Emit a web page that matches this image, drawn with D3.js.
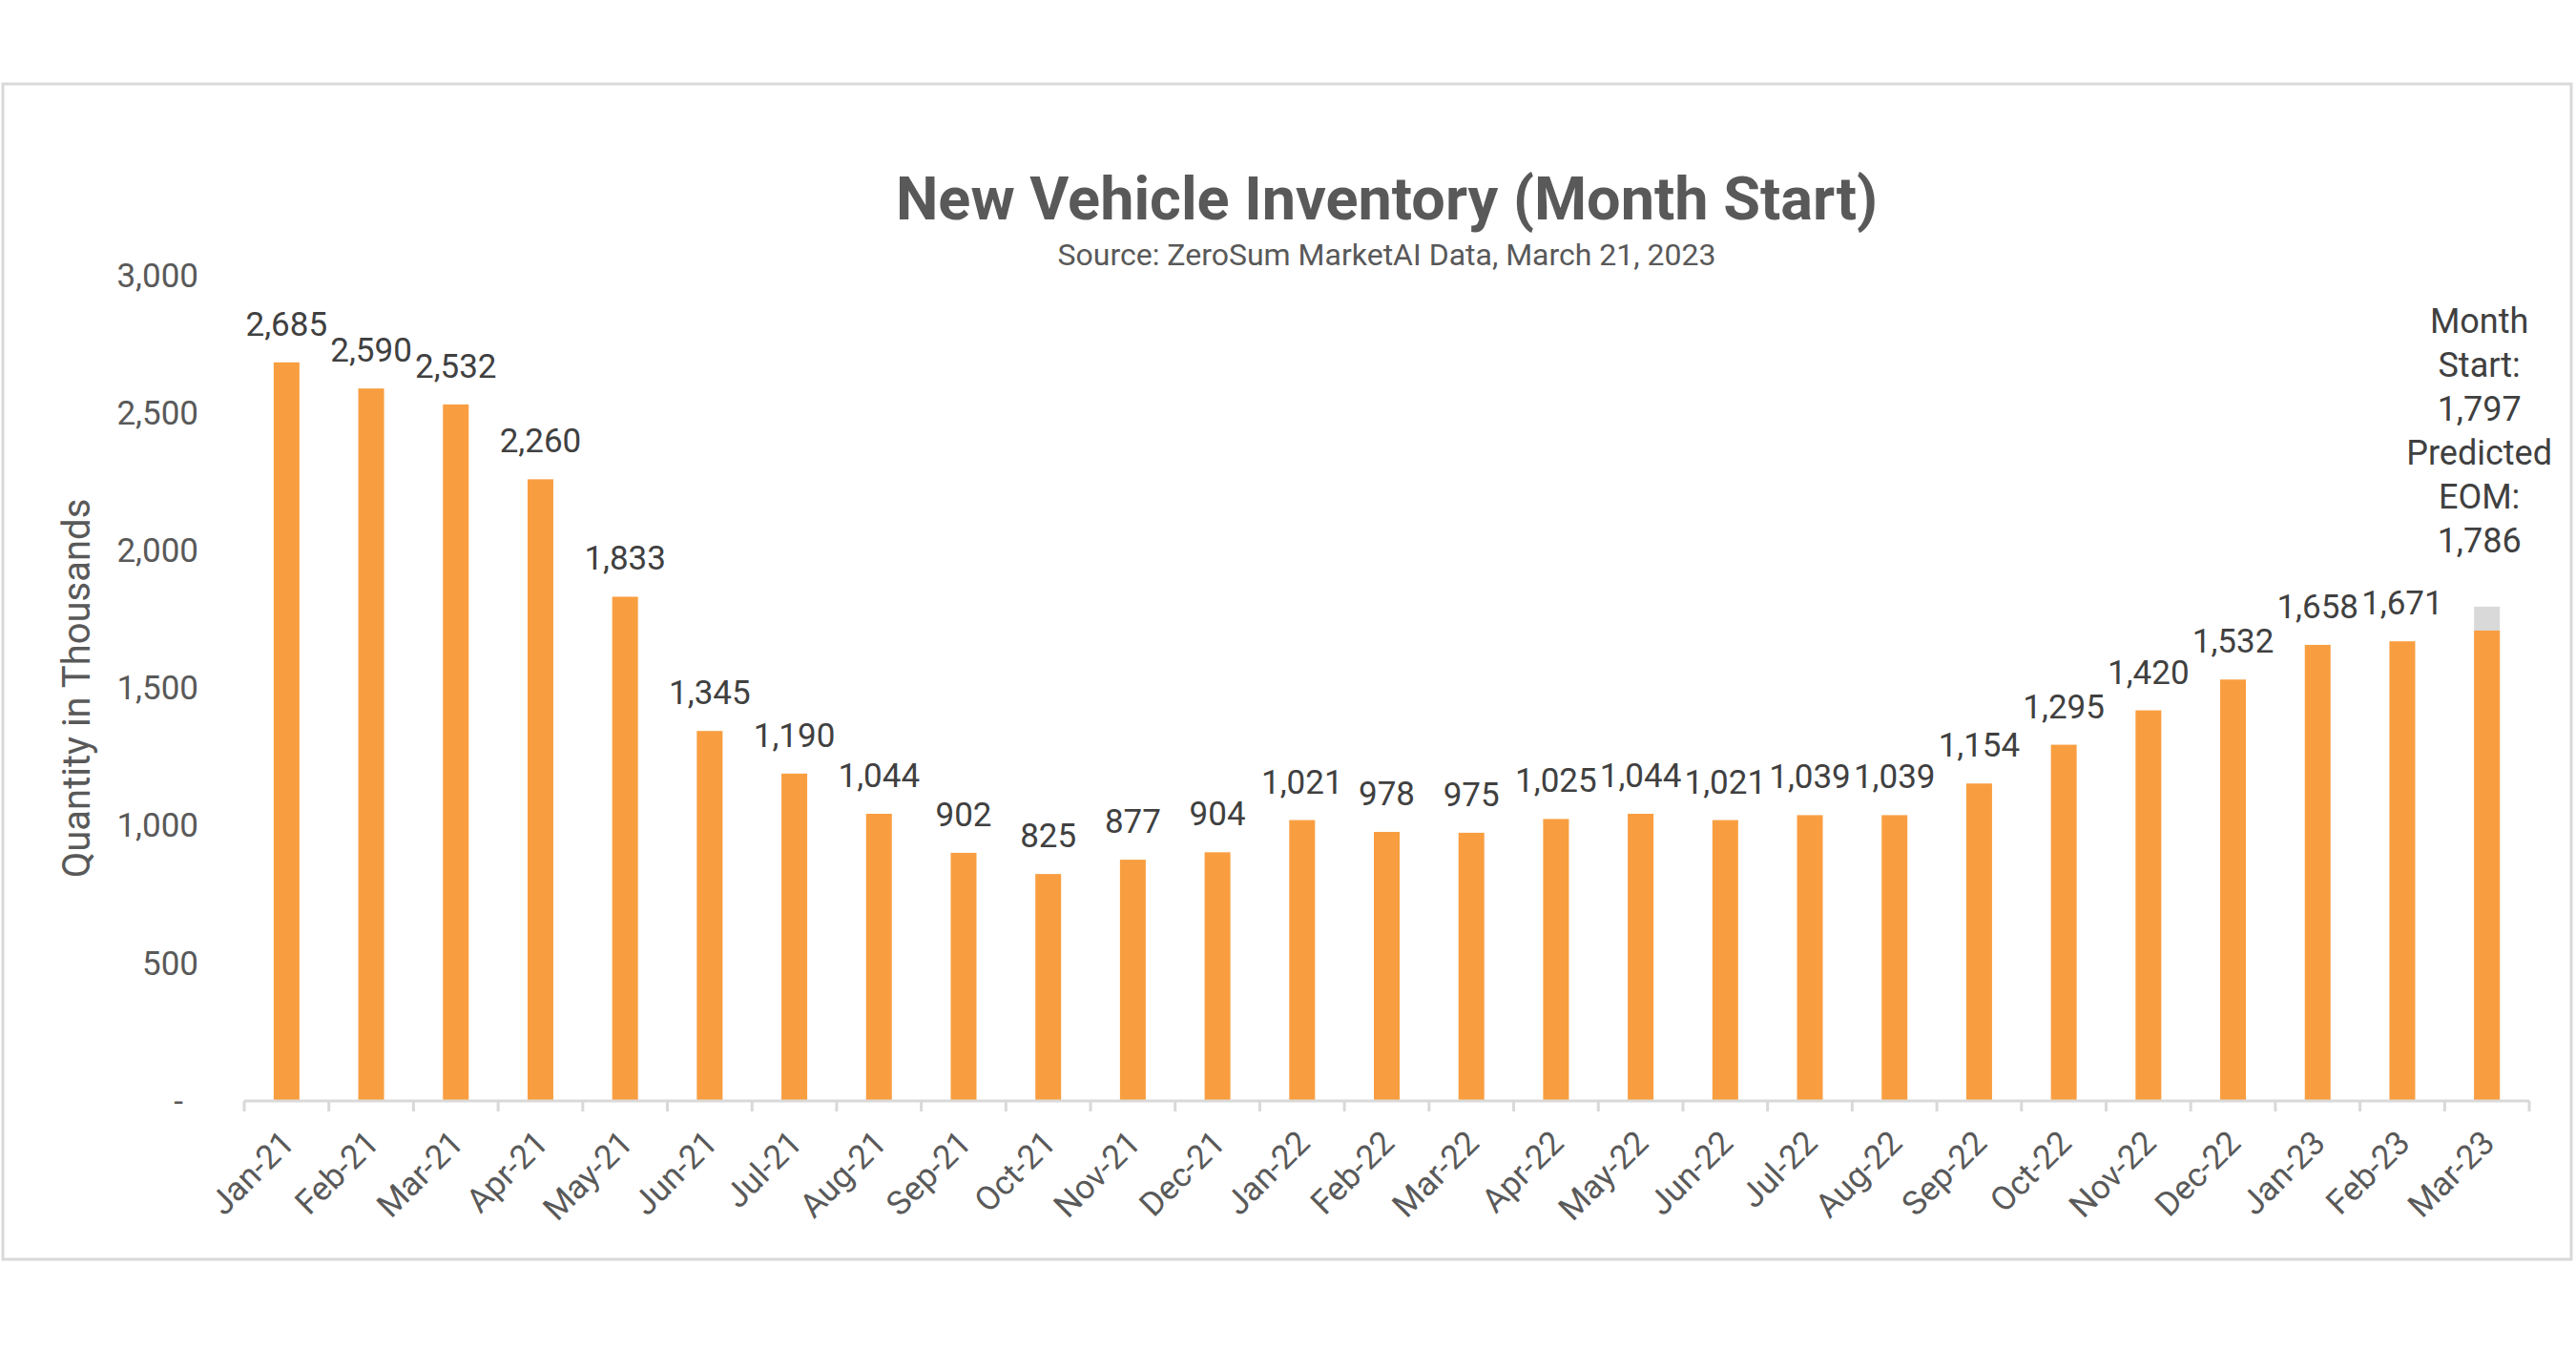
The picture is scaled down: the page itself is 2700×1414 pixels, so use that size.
<!DOCTYPE html>
<html>
<head>
<meta charset="utf-8">
<script src="https://cdn.jsdelivr.net/npm/d3@7"></script>
<style>
  body { margin: 0; background: #fff; }
  svg { display: block; }
</style>
</head>
<body>
<svg id="chart"></svg>
<script>
const months = ["Jan-21","Feb-21","Mar-21","Apr-21","May-21","Jun-21","Jul-21","Aug-21","Sep-21","Oct-21","Nov-21","Dec-21",
  "Jan-22","Feb-22","Mar-22","Apr-22","May-22","Jun-22","Jul-22","Aug-22","Sep-22","Oct-22","Nov-22","Dec-22",
  "Jan-23","Feb-23","Mar-23"];
// orange bars (last one is the part-month value)
const inventory = [2685,2590,2532,2260,1833,1345,1190,1044,902,825,877,904,
  1021,978,975,1025,1044,1021,1039,1039,1154,1295,1420,1532,
  1658,1671,1710];
// gray cap on the last bar reaches the month start figure
const monthStart = [null,null,null,null,null,null,null,null,null,null,null,null,
  null,null,null,null,null,null,null,null,null,null,null,null,
  null,null,1797];
const lastNote = ["Month","Start:","1,797","Predicted","EOM:","1,786"];
const yTicks = [0,500,1000,1500,2000,2500,3000];

const W = 2700, H = 1414;
const margin = {top: 289, left: 256, right: 49, bottom: 260};
const textColor = "#595959";
const font = "Roboto, 'Open Sans', sans-serif";

const svg = d3.select("#chart").attr("width", W).attr("height", H);

// outer frame
svg.append("rect")
  .attr("x", 3).attr("y", 88)
  .attr("width", 2692).attr("height", 1232)
  .attr("fill", "none")
  .attr("stroke", "#d9d9d9")
  .attr("stroke-width", 3);

const x = d3.scaleBand()
  .domain(months)
  .range([margin.left, W - margin.right]);
const y = d3.scaleLinear()
  .domain([0, 3000])
  .range([H - margin.bottom, margin.top]);

const barW = 27;
const fmt = d3.format(",");

// title
svg.append("text")
  .attr("x", (x.range()[0] + x.range()[1]) / 2)
  .attr("y", 230)
  .attr("text-anchor", "middle")
  .attr("font-family", font)
  .attr("font-weight", "bold")
  .attr("font-size", 63)
  .attr("fill", textColor)
  .text("New Vehicle Inventory (Month Start)");
svg.append("text")
  .attr("x", (x.range()[0] + x.range()[1]) / 2)
  .attr("y", 278)
  .attr("text-anchor", "middle")
  .attr("font-family", font)
  .attr("font-size", 32)
  .attr("fill", textColor)
  .text("Source: ZeroSum MarketAI Data, March 21, 2023");

// y axis labels
const yAxis = svg.append("g")
  .attr("transform", `translate(208,0)`)
  .call(d3.axisLeft(y).tickValues(yTicks).tickSize(0).tickPadding(0)
    .tickFormat(d => d === 0 ? "-" : fmt(d)));
yAxis.select(".domain").remove();
yAxis.selectAll("text")
  .attr("font-family", font)
  .attr("font-size", 35)
  .attr("fill", textColor)
  .attr("dx", d => d === 0 ? -16 : 0);

svg.append("text")
  .attr("transform", `translate(94,${(y(0) + y(3000)) / 2}) rotate(-90)`)
  .attr("text-anchor", "middle")
  .attr("font-family", font)
  .attr("font-size", 40)
  .attr("fill", textColor)
  .text("Quantity in Thousands");

// bars
const bars = svg.append("g");
bars.selectAll("rect.cap")
  .data(months.filter((m, i) => monthStart[i] != null))
  .enter()
  .append("rect")
  .attr("class", "cap")
  .attr("x", m => x(m) + x.bandwidth() / 2 - barW / 2)
  .attr("y", m => y(monthStart[months.indexOf(m)]))
  .attr("width", barW)
  .attr("height", m => y(0) - y(monthStart[months.indexOf(m)]))
  .attr("fill", "#d9d9d9");
bars.selectAll("rect.inv")
  .data(months)
  .enter()
  .append("rect")
  .attr("class", "inv")
  .attr("x", m => x(m) + x.bandwidth() / 2 - barW / 2)
  .attr("y", (m, i) => y(inventory[i]))
  .attr("width", barW)
  .attr("height", (m, i) => y(0) - y(inventory[i]))
  .attr("fill", "#f99e40");

// value labels
svg.append("g")
  .selectAll("text")
  .data(months.slice(0, months.length - 1))
  .enter()
  .append("text")
  .attr("x", m => x(m) + x.bandwidth() / 2)
  .attr("y", (m, i) => y(inventory[i]) - 28)
  .attr("text-anchor", "middle")
  .attr("font-family", font)
  .attr("font-size", 35)
  .attr("fill", "#404040")
  .text((m, i) => fmt(inventory[i]));

// note on the last bar
const lastM = months[months.length - 1];
const noteTop = y(monthStart[months.length - 1]) - 57;
svg.append("g")
  .selectAll("text")
  .data(lastNote)
  .enter()
  .append("text")
  .attr("x", x(lastM) + x.bandwidth() / 2 - 8)
  .attr("y", (d, i) => noteTop - (lastNote.length - 1 - i) * 46)
  .attr("text-anchor", "middle")
  .attr("font-family", font)
  .attr("font-size", 36)
  .attr("fill", "#404040")
  .text(d => d);

// x axis
const xg = svg.append("g");
xg.append("line")
  .attr("x1", x.range()[0]).attr("x2", x.range()[1])
  .attr("y1", y(0)).attr("y2", y(0))
  .attr("stroke", "#d9d9d9").attr("stroke-width", 3);
xg.selectAll("line.tick")
  .data(months.map(m => x(m)).concat([x.range()[1]]))
  .enter()
  .append("line")
  .attr("class", "tick")
  .attr("x1", d => d).attr("x2", d => d)
  .attr("y1", y(0)).attr("y2", y(0) + 11)
  .attr("stroke", "#d9d9d9").attr("stroke-width", 3);
xg.selectAll("text")
  .data(months)
  .enter()
  .append("text")
  .attr("transform", m => `translate(${x(m) + x.bandwidth() / 2 + 10},1200) rotate(-45)`)
  .attr("text-anchor", "end")
  .attr("font-family", font)
  .attr("font-size", 35)
  .attr("fill", textColor)
  .text(m => m);
</script>
</body>
</html>
